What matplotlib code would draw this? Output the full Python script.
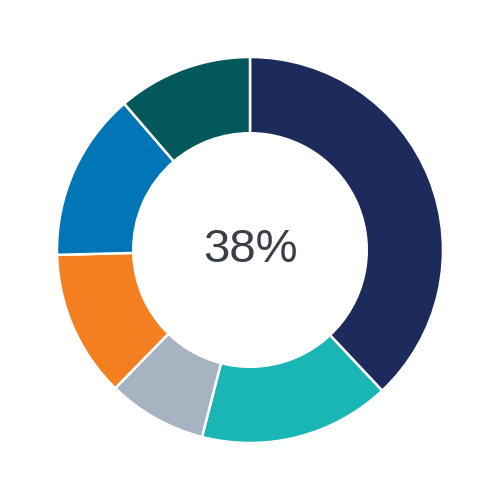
"""Donut chart with a headline share in the centre."""

import matplotlib.pyplot as plt

labels = ["Navy", "Teal", "Gray", "Orange", "Blue", "Green"]
shares = [38.0, 16.0, 8.3, 12.3, 14.1, 11.3]
colors = ["#1c2b5b", "#1ab5b5", "#a8b3c2", "#f47f20", "#0076b6", "#02585a"]
center_label = "38%"

fig = plt.figure(figsize=(5.0, 5.0), dpi=100)
ax = fig.add_axes([0.0, 0.0, 1.0, 1.0])
ax.pie(
    shares,
    colors=colors,
    startangle=90,
    counterclock=False,
    radius=1.0,
    wedgeprops={"width": 0.395, "edgecolor": "white", "linewidth": 1.8},
)
ax.text(
    0.0, 0.0, center_label,
    ha="center", va="center",
    fontsize=34, color="#3b3f48", family="Liberation Sans",
)
lim = 250.0 / 193.0
ax.set_xlim(-lim, lim)
ax.set_ylim(-lim, lim)
ax.set_aspect("equal")
ax.axis("off")
fig.savefig("out.png", dpi=100, facecolor="white")
